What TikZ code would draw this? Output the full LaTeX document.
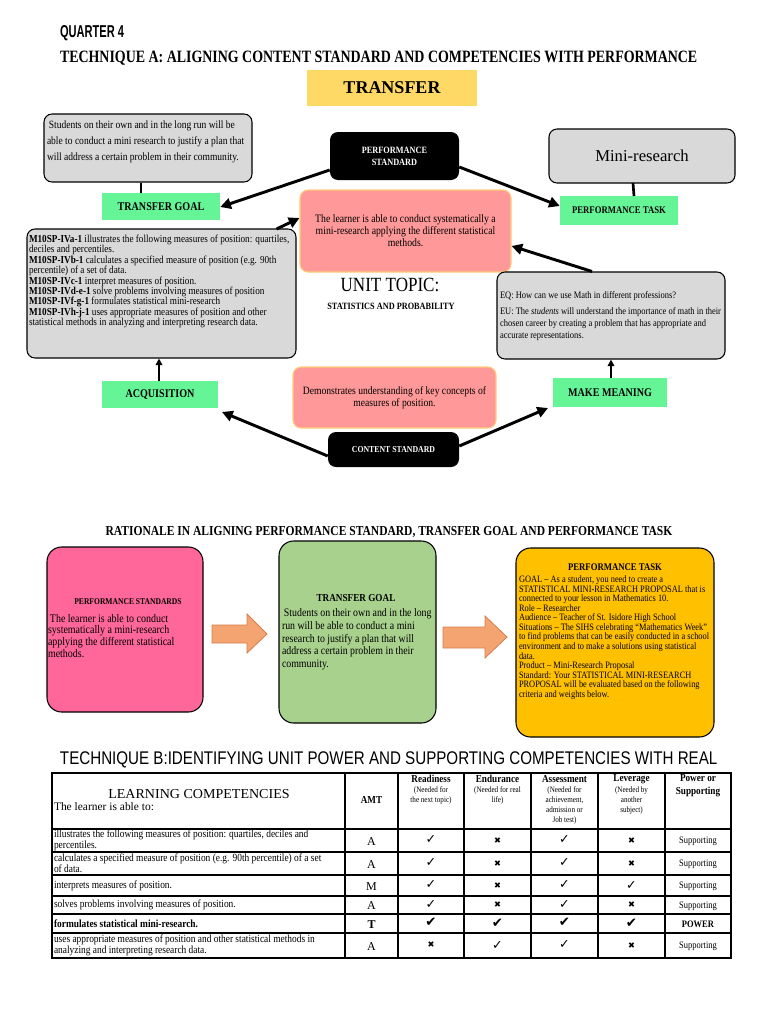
\documentclass[tikz,border=0pt]{standalone}
\usepackage{fontspec}
\usepackage{graphicx}
\setmainfont{Liberation Serif}
\newfontfamily\cond{Liberation Serif}[FakeStretch=0.86,Ligatures=TeX]
\newfontfamily\sansf{Liberation Sans}
\newfontfamily\sym{DejaVu Sans}
\usetikzlibrary{arrows.meta}
\definecolor{gbox}{RGB}{217,217,217}
\definecolor{tgreen}{RGB}{102,245,150}
\definecolor{tyellow}{RGB}{255,217,102}
\definecolor{tpink}{RGB}{255,153,153}
\definecolor{pinkedge}{RGB}{255,205,120}
\definecolor{hpink}{RGB}{255,102,153}
\definecolor{lgreen}{RGB}{169,209,142}
\definecolor{amber}{RGB}{255,192,0}
\definecolor{oarrow}{RGB}{244,164,112}
\definecolor{oarrowd}{RGB}{215,125,75}
\newcommand\bx[7]{\node[#2,inner sep=0pt,align=center,minimum width={(#5-#3)*0.75pt},minimum height={(#6-#4)*0.75pt}] (#1) at ({(#3+#5)/2},{(#4+#6)/2}) {#7};}
\newcommand\ck{{\sym\fontsize{9.5}{9.5}\selectfont ✓}}
\newcommand\bck{{\sym\fontsize{10}{10}\selectfont ✔}}
\newcommand\xx{{\sym\fontsize{6.2}{6.5}\selectfont ✖}}
\begin{document}
\begin{tikzpicture}[x=0.75pt,y=-0.75pt,
  conn/.style={line width=2.2pt,-{Triangle[length=8pt,width=8pt]}},
  upconn/.style={line width=1.4pt,-{Triangle[length=5pt,width=5pt]}},
  gbx/.style={draw=black,line width=0.8pt,fill=gbox,rounded corners=6pt},
  grn/.style={fill=tgreen,draw=none},
  blk/.style={fill=black,rounded corners=6pt,text=white},
  pnk/.style={fill=tpink,draw=pinkedge,line width=0.8pt,rounded corners=6pt},
  rbox/.style={draw=black,line width=0.8pt,rounded corners=11pt},
  txt/.style={inner sep=0pt,outer sep=0pt},
  lbl/.style={font=\cond\bfseries\fontsize{8.8}{10}\selectfont},
]
\useasboundingbox (0,0) rectangle (768,1024);
\fill[white] (0,0) rectangle (768,1024);

% headings
\node[txt,anchor=base west] (q4) at (60,38) {\sansf\bfseries\resizebox{48pt}{9pt}{QUARTER 4}};
\node[txt,anchor=base west] (techa) at (60,62) {\resizebox{478pt}{8.6pt}{\bfseries TECHNIQUE A: ALIGNING CONTENT STANDARD AND COMPETENCIES WITH PERFORMANCE}};

% TRANSFER
\bx{transfer}{fill=tyellow,font=\bfseries\fontsize{13.5}{14}\selectfont}{307}{70}{477}{106}{TRANSFER}

% top-left goal box
\bx{tlbox}{gbx}{44}{114}{252}{182}{}
\node[txt,anchor=north west,align=left,font=\cond\fontsize{8.3}{12}\selectfont] (tltext) at (47,121) {\,Students on their own and in the long run will be\\able to conduct a mini research to justify a plan that\\will address a certain problem in their community.};
\bx{tgoal}{grn,lbl}{102}{193}{220}{220}{TRANSFER GOAL}
\draw[line width=2pt] (tlbox.south -| 141,0) -- (tgoal.north -| 141,0);

% left competencies box
\bx{lbox}{gbx}{27}{229}{296}{358}{}
\node[txt,anchor=north west,align=left,font=\cond\fontsize{8}{7.8}\selectfont] (ltext) at (29,235) {\textbf{M10SP-IVa-1} illustrates the following measures of position: quartiles,\\deciles and percentiles.\\\textbf{M10SP-IVb-1} calculates a specified measure of position (e.g. 90th\\percentile) of a set of data.\\\textbf{M10SP-IVc-1} interpret measures of position.\\\textbf{M10SP-IVd-e-1} solve problems involving measures of position\\\textbf{M10SP-IVf-g-1} formulates statistical mini-research\\\textbf{M10SP-IVh-j-1} uses appropriate measures of position and other\\statistical methods in analyzing and interpreting research data.};

% performance standard
\bx{ps}{blk,font=\cond\bfseries\fontsize{7.2}{9}\selectfont}{330}{132}{459}{180}{PERFORMANCE\\STANDARD}
\bx{pstext}{pnk,font=\cond\fontsize{8.5}{9}\selectfont}{300}{190}{511}{272}{The learner is able to conduct systematically a\\mini-research applying the different statistical\\methods.}

% unit topic
\node[txt] (unit) at (390,285) {\resizebox{74pt}{10pt}{UNIT TOPIC:}};
\node[txt,font=\cond\bfseries\fontsize{7.2}{8}\selectfont] (stat) at (391,306) {STATISTICS AND PROBABILITY};

% mini-research
\bx{mini}{gbx,font=\fontsize{12.5}{14}\selectfont}{549}{129}{735}{183}{Mini-research}
\bx{ptask}{grn,font=\cond\bfseries\fontsize{7.6}{9}\selectfont}{560}{196}{678}{225}{PERFORMANCE TASK}
\draw[line width=2pt] (633,183) -- (634,196);

% EQ box
\bx{eqbox}{gbx}{497}{272}{725}{359}{}
\node[txt,anchor=north west,font=\cond\fontsize{7.4}{9}\selectfont] (eq) at (500,292) {EQ: How can we use Math in different professions?};
\node[txt,anchor=north west,align=left,font=\cond\fontsize{7.4}{9}\selectfont] (eu) at (500,308) {EU: The \textit{students} will understand the importance of math in their\\chosen career by creating a problem that has appropriate and\\accurate representations.};

% bottom row
\bx{acq}{grn,lbl}{102}{381}{218}{408}{ACQUISITION}
\bx{mm}{grn,lbl}{553}{378}{667}{407}{MAKE MEANING}
\bx{demo}{pnk,font=\cond\fontsize{8.4}{9}\selectfont}{293}{367}{496}{428}{Demonstrates understanding of key concepts of\\measures of position.}
\bx{cs}{blk,font=\cond\bfseries\fontsize{6.8}{8}\selectfont}{328}{432}{459}{467}{CONTENT STANDARD}

% connectors
\draw[conn] (ps.west |- 0,170) -- (tgoal.east |- 0,207);
\draw[conn] (ps.east |- 0,167) -- (ptask.west |- 0,206);
\draw[conn] (lbox.north east |- 0,229) ++(-20,0) coordinate (lbs) -- (pstext.west |- 0,218);
\draw[conn] (eqbox.north -| 592,0) -- (pstext.east |- 0,246);
\draw[upconn] (mm.north -| 611,0) -- (eqbox.south -| 611,0);
\draw[upconn] (acq.north -| 159,0) -- (lbox.south -| 159,0);
\draw[conn] (cs.west |- 0,456) -- (222,412) coordinate (acqend);
\draw[conn] (cs.east |- 0,446) -- (548,408) coordinate (mmend);

% rationale
\node[txt,anchor=base] (rtitle) at (389,535) {\resizebox{425pt}{6.8pt}{\bfseries RATIONALE IN ALIGNING PERFORMANCE STANDARD, TRANSFER GOAL AND PERFORMANCE TASK}};
\bx{rps}{rbox,fill=hpink}{47}{547}{203}{712}{}
\node[txt,font=\cond\bfseries\fontsize{6.6}{8}\selectfont] (rpst) at (128,602) {PERFORMANCE STANDARDS};
\node[txt,anchor=north west,align=left,font=\cond\fontsize{8.7}{8.9}\selectfont] (rpsb) at (48,614) {\,The learner is able to conduct\\systematically a mini-research\\applying the different statistical\\methods.};

\bx{rtg}{rbox,fill=lgreen}{279}{541}{436}{723}{}
\node[txt,font=\cond\bfseries\fontsize{8}{9}\selectfont] (rtgt) at (356,598) {TRANSFER GOAL};
\node[txt,anchor=north west,align=left,font=\cond\fontsize{8.6}{9.4}\selectfont] (rtgb) at (282,609) {\,Students on their own and in the long\\run will be able to conduct a mini\\research to justify a plan that will\\address a certain problem in their\\community.};

\bx{rpt}{rbox,fill=amber}{516}{548}{714}{737}{}
\node[txt,font=\cond\bfseries\fontsize{7.6}{8}\selectfont] (rptt) at (615,567) {PERFORMANCE TASK};
\node[txt,anchor=north west,align=left,font=\cond\fontsize{7.3}{7.15}\selectfont] (rptb) at (519,576) {GOAL – As a student, you need to create a\\STATISTICAL MINI-RESEARCH PROPOSAL that is\\connected to your lesson in Mathematics 10.\\Role – Researcher\\Audience – Teacher of St. Isidore High School\\Situations – The SIHS celebrating “Mathematics Week”\\to find problems that can be easily conducted in a school\\environment and to make a solutions using statistical\\data.\\Product – Mini-Research Proposal\\Standard: Your STATISTICAL MINI-RESEARCH\\PROPOSAL will be evaluated based on the following\\criteria and weights below.};

% block arrows
\draw[fill=oarrow,draw=oarrowd,line width=0.6pt] (212,625) -- (247,625) -- (247,614) -- (267,634) -- (247,653) -- (247,643) -- (212,643) -- cycle;
\draw[fill=oarrow,draw=oarrowd,line width=0.6pt] (443,627) -- (485,627) -- (485,616) -- (507,637) -- (485,658) -- (485,648) -- (443,648) -- cycle;

% technique B
\node[txt,anchor=base west] (techb) at (60,764) {\resizebox{493pt}{9.6pt}{\sansf TECHNIQUE B:IDENTIFYING UNIT POWER AND SUPPORTING COMPETENCIES WITH REAL}};

% table
\draw[line width=0.9pt] (52,773) rectangle (731,958);
\foreach \xv in {345,398,464,531,598,665} \draw[line width=0.9pt] (\xv,773) -- (\xv,958);
\foreach \yv in {829,852,875,896,914,933} \draw[line width=0.9pt] (52,\yv) -- (731,\yv);

\node[txt] (lch) at (199,794) {\resizebox{136pt}{6.8pt}{LEARNING COMPETENCIES}};
\node[txt,anchor=north west,font=\fontsize{8.6}{10}\selectfont] (lcs) at (54,803) {The learner is able to:};
\node[txt,font=\cond\bfseries\fontsize{8}{9}\selectfont] (amth) at (371.5,800) {AMT};
\node[txt,anchor=north,align=center,font=\cond\fontsize{6.2}{7.6}\selectfont] (hr) at (431,775) {\textbf{\fontsize{8}{9}\selectfont Readiness}\\(Needed for\\the next topic)};
\node[txt,anchor=north,align=center,font=\cond\fontsize{6.2}{7.6}\selectfont] (he) at (497.5,775) {\textbf{\fontsize{8}{9}\selectfont Endurance}\\(Needed for real\\life)};
\node[txt,anchor=north,align=center,font=\cond\fontsize{6.2}{7.6}\selectfont] (ha) at (564.5,775) {\textbf{\fontsize{8}{9}\selectfont Assessment}\\(Needed for\\achievement,\\admission or\\Job test)};
\node[txt,anchor=north,align=center,font=\cond\fontsize{6.2}{7.6}\selectfont] (hl) at (631.5,775) {\textbf{\fontsize{8}{9}\selectfont Leverage}\\(Needed by\\another\\subject)};
\node[txt,anchor=north,align=center,font=\cond\bfseries\fontsize{8}{9.6}\selectfont] (hp) at (698,775) {Power or\\Supporting};

% rows
\foreach \i/\yc/\txt/\amt/\a/\b/\c/\d/\p in {
  1/840.5/{illustrates the following measures of position: quartiles, deciles and\\percentiles.}/A/\ck/\xx/\ck/\xx/Supporting,
  2/863.5/{calculates a specified measure of position (e.g. 90th percentile) of a set\\of data.}/A/\ck/\xx/\ck/\xx/Supporting,
  3/885.5/{interprets measures of position.}/M/\ck/\xx/\ck/\ck/Supporting,
  4/905/{solves problems involving measures of position.}/A/\ck/\xx/\ck/\xx/Supporting,
  5/923.5/{\textbf{formulates statistical mini-research.}}/\textbf{T}/\bck/\bck/\bck/\bck/\textbf{POWER},
  6/945.5/{uses appropriate measures of position and other statistical methods in\\analyzing and interpreting research data.}/A/\xx/\ck/\ck/\xx/Supporting}
{
  \node[txt,anchor=west,align=left,font=\cond\fontsize{8.2}{8.4}\selectfont] (lc\i) at (54,\yc) {\txt};
  \node[txt,font=\fontsize{9}{10}\selectfont] (amt\i) at (371.5,\yc+1) {\amt};
  \node[txt] (rd\i) at (431,\yc-1) {\a};
  \node[txt] (en\i) at (497.5,\yc) {\b};
  \node[txt] (as\i) at (564.5,\yc-1) {\c};
  \node[txt] (lv\i) at (631.5,\yc) {\d};
  \node[txt,font=\cond\fontsize{7.4}{9}\selectfont] (pw\i) at (698,\yc+1) {\p};
}
\end{tikzpicture}
\end{document}
